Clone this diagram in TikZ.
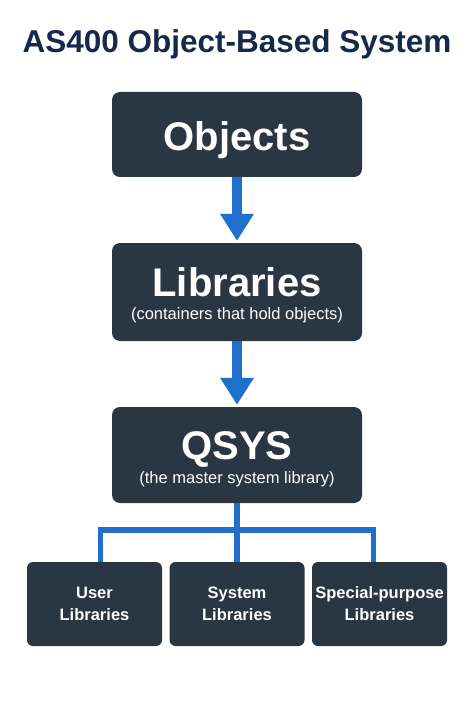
\documentclass[tikz,border=0pt]{standalone}
\usepackage{fontspec}
\setmainfont{Liberation Sans}
\usetikzlibrary{arrows.meta,calc}
\definecolor{boxfill}{HTML}{2A3641}
\definecolor{flowblue}{HTML}{1F6FCC}
\definecolor{titlenavy}{HTML}{15294A}
\tikzset{
  bigbox/.style={fill=boxfill, rounded corners=8pt, minimum width=250pt, inner sep=0pt},
  smallbox/.style={fill=boxfill, rounded corners=6pt, minimum width=135pt, minimum height=84pt, inner sep=0pt},
  smalltext/.style={text=white, anchor=base, inner sep=0pt, font=\fontsize{16.5}{21}\selectfont\bfseries},
  bigtext/.style={text=white, anchor=base, inner sep=0pt, font=\fontsize{40}{44}\selectfont\bfseries},
  subtext/.style={text=white, anchor=base, inner sep=0pt, font=\fontsize{16.5}{19}\selectfont},
  flowarrow/.style={draw=flowblue, line width=10pt, -{Triangle[width=32pt,length=27pt]}, shorten >=2pt},
  treeline/.style={draw=flowblue, line width=5.5pt, line join=miter}
}
\begin{document}
\begin{tikzpicture}[x=1pt,y=-1pt]
\useasboundingbox[fill=white] (0,0) rectangle (474,711);
\node[text=titlenavy, anchor=base, inner sep=0pt, font=\fontsize{31.5}{34}\selectfont\bfseries] (title) at (237,53) {AS400 Object-Based System};
\node[bigbox, minimum height=85pt] (objects) at (237,134.5) {};
\node[bigtext] (objectsText) at (237,151) {Objects};
\node[bigbox, minimum height=98pt] (libraries) at (237,292) {};
\node[bigtext] (librariesText) at (237,296) {Libraries};
\node[subtext] (librariesSub) at (237,319) {(containers that hold objects)};
\node[bigbox, minimum height=96pt] (qsys) at (237,455) {};
\node[bigtext] (qsysText) at (237,459) {QSYS};
\node[subtext] (qsysSub) at (237,483) {(the master system library)};
\node[smallbox] (user) at (94.5,604) {};
\node[smalltext] (userA) at (94.5,598) {User};
\node[smalltext] (userB) at (94.5,620) {Libraries};
\node[smallbox] (system) at (237,604) {};
\node[smalltext] (systemA) at (237,598) {System};
\node[smalltext] (systemB) at (237,620) {Libraries};
\node[smallbox] (special) at (379.5,604) {};
\node[smalltext] (specialA) at (379.5,598) {Special-purpose};
\node[smalltext] (specialB) at (379.5,620) {Libraries};
\draw[flowarrow] (objects.south) -- (libraries.north);
\draw[flowarrow] (libraries.south) -- (qsys.north);
\coordinate (junction) at ($(qsys.south)+(0,27)$);
\coordinate (userTop) at ([xshift=6pt]user.north);
\coordinate (specialTop) at ([xshift=-6pt]special.north);
\draw[treeline] (qsys.south) -- (system.north);
\draw[treeline] (userTop) |- (junction) -| (specialTop);
\end{tikzpicture}
\end{document}
